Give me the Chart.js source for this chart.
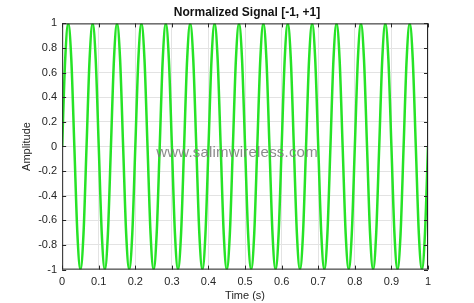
<!DOCTYPE html>
<html><head><meta charset="utf-8">
<script src="https://cdn.jsdelivr.net/npm/chart.js@4/dist/chart.umd.min.js"></script>
<style>
html,body{margin:0;padding:0;background:#fff;}
#wrap{position:relative;width:474px;height:303px;}
#wm{position:absolute;left:0;width:474px;top:143px;text-align:center;font:15px "Liberation Sans",Arial,sans-serif;color:rgba(120,120,120,0.85);pointer-events:none;letter-spacing:0.2px;}
</style>
</head><body>
<div id="wrap"><canvas id="c" width="474" height="303"></canvas><div id="wm">www.salimwireless.com</div></div>
<script>
// time samples (s), every 1/120 s
const timeSamples = [];
for (let k = 0; k <= 120; k++) timeSamples.push(k / 120);
// amplitude at those times
const amplitude = [
 0,0.71,1,0.71,0,-0.71,-1,-0.71,
 0,0.71,1,0.71,0,-0.71,-1,-0.71,
 0,0.71,1,0.71,0,-0.71,-1,-0.71,
 0,0.71,1,0.71,0,-0.71,-1,-0.71,
 0,0.71,1,0.71,0,-0.71,-1,-0.71,
 0,0.71,1,0.71,0,-0.71,-1,-0.71,
 0,0.71,1,0.71,0,-0.71,-1,-0.71,
 0,0.71,1,0.71,0,-0.71,-1,-0.71,
 0,0.71,1,0.71,0,-0.71,-1,-0.71,
 0,0.71,1,0.71,0,-0.71,-1,-0.71,
 0,0.71,1,0.71,0,-0.71,-1,-0.71,
 0,0.71,1,0.71,0,-0.71,-1,-0.71,
 0,0.71,1,0.71,0,-0.71,-1,-0.71,
 0,0.71,1,0.71,0,-0.71,-1,-0.71,
 0,0.71,1,0.71,0,-0.71,-1,-0.71,
 0
];
const xTickLabels = ["0","0.1","0.2","0.3","0.4","0.5","0.6","0.7","0.8","0.9","1"];
const yTickLabels = ["-1","-0.8","-0.6","-0.4","-0.2","0","0.2","0.4","0.6","0.8","1"];

const points = timeSamples.map((t,i)=>({x:t,y:amplitude[i]}));
const FONT = '"Liberation Sans", Arial, sans-serif';
const axisCol = '#262626';

const boxPlugin = {
  id:'box',
  afterDatasetsDraw(chart){
    const {ctx, chartArea:a, scales:{x,y}} = chart;
    ctx.save();
    ctx.strokeStyle = axisCol; ctx.lineWidth = 1;
    ctx.strokeRect(a.left+0.5, a.top+0.5, a.right-a.left-1, a.bottom-a.top-1);
    const L = 4;
    ctx.beginPath();
    x.ticks.forEach(t=>{const px=Math.round(x.getPixelForValue(t.value))+0.5;
      ctx.moveTo(px,a.bottom); ctx.lineTo(px,a.bottom-L);
      ctx.moveTo(px,a.top); ctx.lineTo(px,a.top+L);});
    y.ticks.forEach(t=>{const py=Math.round(y.getPixelForValue(t.value))+0.5;
      ctx.moveTo(a.left,py); ctx.lineTo(a.left+L,py);
      ctx.moveTo(a.right,py); ctx.lineTo(a.right-L,py);});
    ctx.stroke();
    ctx.restore();
  }
};

new Chart(document.getElementById('c'), {
  type:'line',
  data:{datasets:[{data:points, borderColor:'#26e326', borderWidth:2.5, pointRadius:0, tension:0.4, cubicInterpolationMode:'monotone', fill:false}]},
  options:{
    responsive:false, animation:false, devicePixelRatio:1,
    layout:{padding:{left:20,right:0,top:0,bottom:0}},
    plugins:{
      legend:{display:false}, tooltip:{enabled:false},
      title:{display:true, text:'Normalized Signal [-1, +1]', color:'#111', font:{family:FONT,size:12,weight:'bold'}, padding:{top:5,bottom:4}}
    },
    scales:{
      x:{type:'linear', min:0, max:1,
        ticks:{stepSize:0.1, color:axisCol, font:{family:FONT,size:11}, maxRotation:0, padding:6,
          callback:(v,i)=>xTickLabels[i]},
        grid:{color:'#e3e3e3', drawTicks:false, lineWidth:1},
        border:{display:false},
        title:{display:true,text:'Time (s)',color:axisCol,font:{family:FONT,size:11},padding:{top:-5,bottom:0}}},
      y:{type:'linear', min:-1, max:1,
        ticks:{stepSize:0.2, color:axisCol, font:{family:FONT,size:11}, padding:5,
          callback:(v,i)=>yTickLabels[i]},
        grid:{color:'#e3e3e3', drawTicks:false, lineWidth:1},
        border:{display:false},
        title:{display:true,text:'Amplitude',color:axisCol,font:{family:FONT,size:11},padding:{top:0,bottom:0}}},
      y2:{type:'linear', position:'right', min:-1, max:1,
        ticks:{display:false}, grid:{display:false}, border:{display:false},
        afterFit(scale){ scale.width = 46; }}
    }
  },
  plugins:[boxPlugin]
});
</script>
</body></html>
